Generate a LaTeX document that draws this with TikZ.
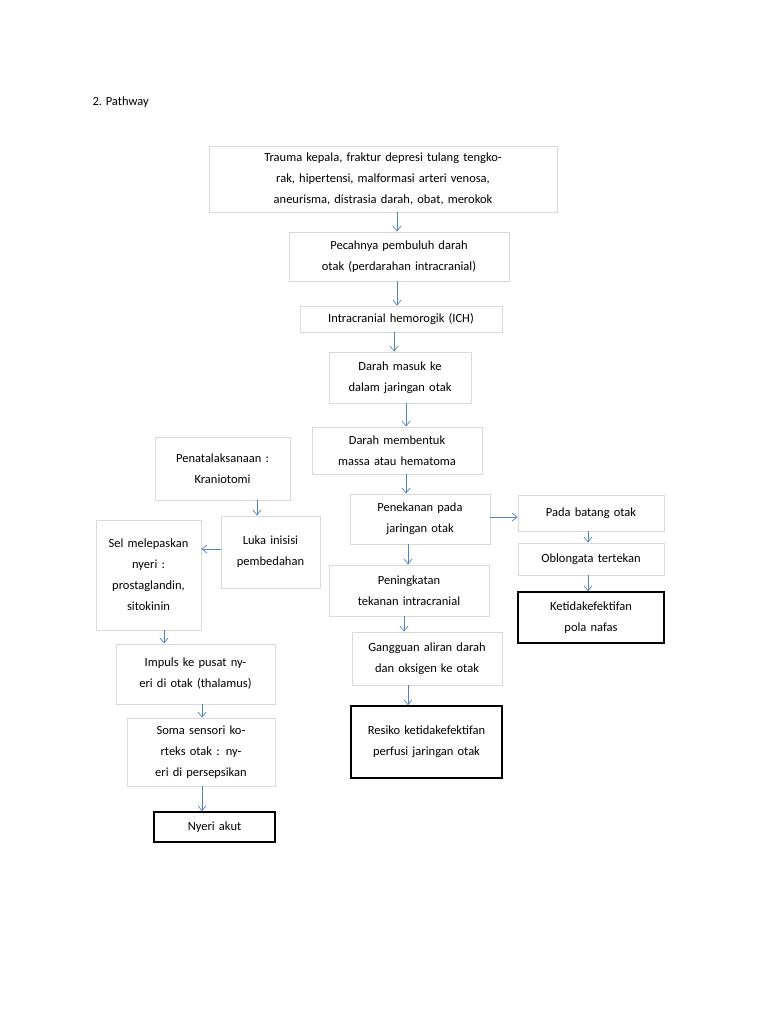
\documentclass[tikz,border=0pt]{standalone}
\usepackage{fontspec}
\setmainfont{Carlito}
\usetikzlibrary{arrows.meta}
\begin{document}
\begin{tikzpicture}[x=1pt,y=-1pt,
  box/.style={draw=black!15,line width=0.8pt,align=center,inner sep=2pt,font=\fontsize{12.5}{21}\selectfont},
  tbox/.style={box,draw=black,line width=1.4pt},
  arr/.style={draw={rgb,255:red,79;green,129;blue,189},line width=0.7pt,-{Straight Barb[length=5pt,width=8pt]}}]
\useasboundingbox (0,0) rectangle (768,1024);
\newcommand{\bx}[7]{\node[#6,minimum width={#4-#2},minimum height={#5-#3},text width={#4-#2-12}] (#1) at ({(#2+#4)/2},{(#3+#5)/2}) {#7};}
\node[anchor=west,font=\fontsize{12.5}{15}\selectfont] (title) at (89,102) {2. Pathway};
\bx{a}{209}{146}{557}{212}{box}{Trauma kepala, fraktur depresi tulang tengkorak, hipertensi, malformasi arteri venosa, aneurisma, distrasia darah, obat, merokok}
\bx{b}{289}{232}{509}{281}{box}{Pecahnya pembuluh darah otak (perdarahan intracranial)}
\bx{c}{300}{306}{502}{332}{box}{Intracranial hemorogik (ICH)}
\bx{d}{329}{352}{471}{403}{box}{Darah masuk ke\\dalam jaringan otak}
\bx{e}{312}{427}{482}{474}{box}{Darah membentuk massa atau hematoma}
\bx{f}{155}{437}{290}{500}{box}{Penatalaksanaan :\\Kraniotomi}
\bx{g}{350}{494}{490}{544}{box}{Penekanan pada\\jaringan otak}
\bx{h}{518}{495}{664}{531}{box}{Pada batang otak}
\bx{i}{221}{516}{320}{588}{box}{Luka inisisi\\pembedahan}
\bx{j}{96}{520}{201}{630}{box}{Sel melepaskan nyeri : prostaglandin, sitokinin}
\bx{k}{518}{543}{664}{575}{box}{Oblongata tertekan}
\bx{l}{329}{565}{489}{616}{box}{Peningkatan tekanan intracranial}
\bx{m}{518}{592}{664}{643}{tbox}{Ketidakefektifan pola nafas}
\bx{n}{352}{632}{502}{685}{box}{Gangguan aliran darah dan oksigen ke otak}
\bx{o}{116}{644}{275}{704}{box}{Impuls ke pusat nyeri di otak (thalamus)}
\bx{p}{351}{706}{502}{778}{tbox}{Resiko ketidakefektifan perfusi jaringan otak}
\bx{q}{127}{718}{275}{786}{box}{Soma sensori korteks otak : nyeri di persepsikan}
\bx{r}{154}{812}{275}{842}{tbox}{Nyeri akut}
\newcommand{\va}[3]{\draw[arr] (#1.south -| #3,0) -- (#2.north -| #3,0);}
\va{a}{b}{397}\va{b}{c}{397}\va{c}{d}{394}\va{d}{e}{406}\va{e}{g}{406}
\va{h}{k}{588}\va{k}{m}{588}\va{g}{l}{408}\va{l}{n}{404}\va{n}{p}{408}
\va{f}{i}{257}\va{j}{o}{164}\va{o}{q}{202}\va{q}{r}{202}
\draw[arr] (g.east |- 0,517) -- (h.west |- 0,517);
\draw[arr] (i.west |- 0,549) -- (j.east |- 0,549);
\end{tikzpicture}
\end{document}
